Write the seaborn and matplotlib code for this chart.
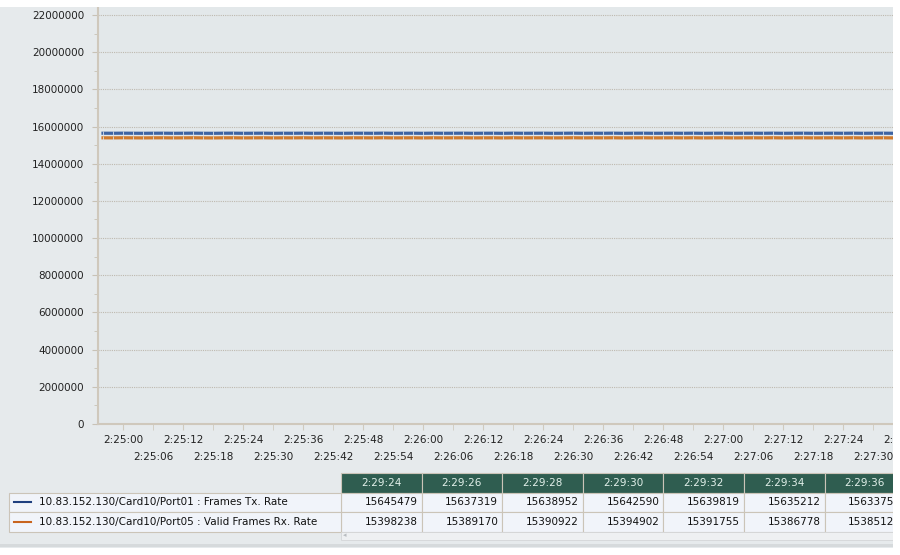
import matplotlib
matplotlib.use('Agg')
import matplotlib.pyplot as plt
from matplotlib.patches import Rectangle
import pandas as pd
import seaborn as sns

# sample times (every 2 s) and the two rates
times = [
    '2:24:56', '2:24:58', '2:25:00', '2:25:02', '2:25:04', '2:25:06', '2:25:08', '2:25:10', '2:25:12',
    '2:25:14', '2:25:16', '2:25:18', '2:25:20', '2:25:22', '2:25:24', '2:25:26', '2:25:28', '2:25:30',
    '2:25:32', '2:25:34', '2:25:36', '2:25:38', '2:25:40', '2:25:42', '2:25:44', '2:25:46', '2:25:48',
    '2:25:50', '2:25:52', '2:25:54', '2:25:56', '2:25:58', '2:26:00', '2:26:02', '2:26:04', '2:26:06',
    '2:26:08', '2:26:10', '2:26:12', '2:26:14', '2:26:16', '2:26:18', '2:26:20', '2:26:22', '2:26:24',
    '2:26:26', '2:26:28', '2:26:30', '2:26:32', '2:26:34', '2:26:36', '2:26:38', '2:26:40', '2:26:42',
    '2:26:44', '2:26:46', '2:26:48', '2:26:50', '2:26:52', '2:26:54', '2:26:56', '2:26:58', '2:27:00',
    '2:27:02', '2:27:04', '2:27:06', '2:27:08', '2:27:10', '2:27:12', '2:27:14', '2:27:16', '2:27:18',
    '2:27:20', '2:27:22', '2:27:24', '2:27:26', '2:27:28', '2:27:30', '2:27:32', '2:27:34', '2:27:36',
]
tx_rate = [
    15641230, 15638875, 15643102, 15639567, 15636948, 15640712, 15642385, 15637621, 15639904,
    15644018, 15638236, 15635870, 15641552, 15643290, 15637084, 15639715, 15642846, 15636419,
    15640187, 15638763, 15643671, 15637952, 15641038, 15639326, 15636584, 15642207, 15640861,
    15638109, 15644395, 15637488, 15639642, 15641975, 15636230, 15643018, 15638541, 15640296,
    15642733, 15637165, 15639880, 15641427, 15635918, 15643546, 15638392, 15640659, 15642081,
    15636807, 15639213, 15644172, 15637736, 15641304, 15638928, 15643857, 15636375, 15640540,
    15642619, 15637910, 15639451, 15641786, 15638014, 15643239, 15636663, 15640105, 15642968,
    15637317, 15639778, 15641650, 15638487, 15644021, 15636902, 15640383, 15642470, 15637596,
    15639137, 15641869, 15638245, 15643412, 15636710, 15640938, 15642154, 15637853, 15639509,
]
rx_rate = [
    15393012, 15390488, 15395231, 15391807, 15388654, 15392940, 15394517, 15389366, 15391725,
    15396130, 15390271, 15387702, 15393384, 15395046, 15388915, 15391583, 15394702, 15388137,
    15392069, 15390610, 15395523, 15389814, 15392877, 15391148, 15388390, 15394025, 15392713,
    15389962, 15396207, 15389230, 15391464, 15393891, 15388048, 15394830, 15390355, 15392128,
    15394572, 15388961, 15391709, 15393258, 15387736, 15395398, 15390174, 15392481, 15393920,
    15388629, 15391057, 15396004, 15389548, 15393116, 15390743, 15395671, 15388157, 15392362,
    15394438, 15389705, 15391296, 15393604, 15389826, 15395081, 15388485, 15391930, 15394819,
    15389159, 15391587, 15393462, 15390298, 15395840, 15388724, 15392205, 15394296, 15389413,
    15390970, 15393687, 15390064, 15395237, 15388532, 15392756, 15393978, 15389671, 15391338,
]
series_names = ['10.83.152.130/Card10/Port01 : Frames Tx. Rate',
                '10.83.152.130/Card10/Port05 : Valid Frames Rx. Rate']

tick_labels = [
    '2:25:00', '2:25:06', '2:25:12', '2:25:18', '2:25:24', '2:25:30', '2:25:36', '2:25:42', '2:25:48',
    '2:25:54', '2:26:00', '2:26:06', '2:26:12', '2:26:18', '2:26:24', '2:26:30', '2:26:36', '2:26:42',
    '2:26:48', '2:26:54', '2:27:00', '2:27:06', '2:27:12', '2:27:18', '2:27:24', '2:27:30', '2:27:36',
]
y_ticks = [0, 2000000, 4000000, 6000000, 8000000, 10000000, 12000000,
           14000000, 16000000, 18000000, 20000000, 22000000]

# data grid underneath the chart
table_times = ['2:29:24', '2:29:26', '2:29:28', '2:29:30', '2:29:32', '2:29:34', '2:29:36']
table_tx = [15645479, 15637319, 15638952, 15642590, 15639819, 15635212, 15633756]
table_rx = [15398238, 15389170, 15390922, 15394902, 15391755, 15386778, 15385124]

def secs(t):
    return pd.to_timedelta(t).total_seconds()

df = pd.DataFrame({
    'sec': [secs(t) for t in times] * 2,
    'value': tx_rate + rx_rate,
    'series': [series_names[0]] * len(times) + [series_names[1]] * len(times),
})

BG = '#E6EAEC'
PLOT_BG = '#E3E8EA'
EDGE = '#CBC4B8'
colors = ['#3E64A3', '#D07A2C']
legend_colors = ['#1F3F7F', '#C8641E']

plt.rcParams['font.family'] = ['DejaVu Sans']
fig = plt.figure(figsize=(9, 5.55), dpi=100, facecolor=BG)
W, H = 900, 555

ax = fig.add_axes([98 / W, 1 - 424 / H, (893 - 98) / W, (424 - 7) / H])
ax.set_facecolor(PLOT_BG)
sns.lineplot(data=df, x='sec', y='value', hue='series', palette=colors, ax=ax,
             legend=False, linewidth=2.3, marker='|', markersize=3,
             markeredgecolor='#D8DEE6', markeredgewidth=0.6)

# staggered time labels: even ones on the first row, odd ones (minor ticks) below
ax.set_xticks([secs(t) for t in tick_labels[::2]])
ax.set_xticklabels(tick_labels[::2], fontsize=7.5, color='#222222')
ax.set_xticks([secs(t) for t in tick_labels[1::2]], minor=True)
ax.set_xticklabels(tick_labels[1::2], minor=True, fontsize=7.5, color='#222222')
ax.set_yticks(y_ticks)
ax.set_yticklabels([str(v) for v in y_ticks], fontsize=7.5, color='#222222')
ax.set_yticks([v + 1000000 for v in y_ticks[:-1]], minor=True)
ax.set_xlim(secs('2:24:55'), secs('2:27:34'))
ax.set_ylim(0, 22430000)

# last label sits just past the right edge and gets cut off
ax.annotate(tick_labels[-1], xy=(secs(tick_labels[-1]), 0),
            xycoords=('data', 'axes fraction'), xytext=(0, -8), textcoords='offset points',
            ha='center', va='top', fontsize=7.5, color='#222222', annotation_clip=False)

ax.tick_params(axis='y', which='major', length=4, color='#C8C2B6', pad=6)
ax.tick_params(axis='y', which='minor', length=3, color='#C8C2B6')
ax.tick_params(axis='x', which='major', length=4, color='#D0CABE', pad=4)
ax.tick_params(axis='x', which='minor', length=4, color='#D0CABE', pad=16.5)
ax.set_xlabel('')
ax.set_ylabel('')
ax.grid(axis='y', which='major', color='#BEB9AF', linestyle=(0, (1, 1)), linewidth=0.8)
ax.grid(axis='x', visible=False)
for s in ['top', 'right']:
    ax.spines[s].set_visible(False)
for s in ['left', 'bottom']:
    ax.spines[s].set_color('#CFC8BC')
    ax.spines[s].set_linewidth(1.5)

# grid/table drawn in pixel coordinates
tb = fig.add_axes([0, 0, 1, 1], zorder=5)
tb.set_xlim(0, W)
tb.set_ylim(H, 0)
tb.axis('off')
tb.patch.set_alpha(0)

col_x0, col_w = 341, 80.6
hdr_top, row_h = 473, 19.5
for i, t in enumerate(table_times):
    x = col_x0 + i * col_w
    tb.add_patch(Rectangle((x, hdr_top), col_w, row_h, facecolor='#2F5D50',
                           edgecolor=EDGE, linewidth=0.8))
    tb.text(x + col_w / 2, hdr_top + row_h / 2, t, ha='center', va='center',
            fontsize=7.5, color='#E2F0EA')
    for r, vals in enumerate([table_tx, table_rx]):
        y = hdr_top + row_h * (r + 1)
        tb.add_patch(Rectangle((x, y), col_w, row_h, facecolor='#F1F4FA',
                               edgecolor=EDGE, linewidth=0.8))
        tb.text(x + col_w - 4, y + row_h / 2, str(vals[i]), ha='right', va='center',
                fontsize=7.5, color='#111111')

for r, name in enumerate(series_names):
    y = hdr_top + row_h * (r + 1)
    tb.add_patch(Rectangle((9, y), col_x0 - 9, row_h, facecolor='#F1F4FA',
                           edgecolor=EDGE, linewidth=0.8))
    tb.plot([14, 31], [y + row_h / 2, y + row_h / 2], color=legend_colors[r], linewidth=1.5)
    tb.text(39, y + row_h / 2, name, ha='left', va='center', fontsize=7.5, color='#111111')

# scrollbar strip under the grid
sb_top = hdr_top + row_h * 3
tb.add_patch(Rectangle((col_x0, sb_top), 893 - col_x0, 8, facecolor='#EEF0F2',
                       edgecolor='#D4D6D8', linewidth=0.6))
tb.text(col_x0 + 4, sb_top + 4, '◂', ha='center', va='center', fontsize=5, color='#B8BCC0')
tb.add_patch(Rectangle((0, 544), 893, 3, facecolor='#D6DADC', edgecolor='none'))

# white border around the control
tb.add_patch(Rectangle((0, 0), W, 7, facecolor='white', edgecolor='none', zorder=10))
tb.add_patch(Rectangle((893, 0), 7, H, facecolor='white', edgecolor='none', zorder=10))
tb.add_patch(Rectangle((0, 548), W, 7, facecolor='white', edgecolor='none', zorder=10))

fig.savefig('out.png', dpi=100, facecolor=fig.get_facecolor())
